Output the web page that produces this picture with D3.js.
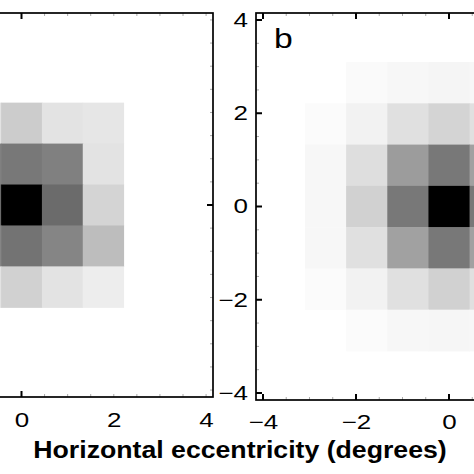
<!DOCTYPE html>
<html>
    <head>
        <meta charset="utf-8">
        <title>Receptive field maps</title>
        <script src="https://d3js.org/d3.v7.min.js"></script>
    </head>
    <style>
        body { margin: 0; background: #fff; }
        text { font-family: "Liberation Sans", Arial, sans-serif; fill: #000; }
    </style>
    <body>

        <div id="my_dataviz"></div>

        <script>

            // grid of stimulus positions (cell index), each cell is CELL degrees wide
            var gridIdx = [-4, -3, -2, -1, 0, 1, 2, 3, 4];
            var CELL = 0.885;

            // tick labels (degrees)
            var tickValues = [-4, -2, 0, 2, 4];
            var minorTicks = d3.range(-4, 4.01, 0.5);

            // response (0 = white, 1 = black). rows: y = +4 .. -4, cols: x = -4 .. 4
            var respA = [
                [0, 0, 0,    0,    0,    0,    0,    0, 0],
                [0, 0, 0,    0,    0,    0,    0,    0, 0],
                [0, 0, 0.10, 0.11, 0.20, 0.11, 0.10, 0, 0],
                [0, 0, 0.11, 0.50, 0.53, 0.50, 0.11, 0, 0],
                [0, 0, 0.17, 0.58, 1.00, 0.58, 0.17, 0, 0],
                [0, 0, 0.26, 0.48, 0.55, 0.48, 0.26, 0, 0],
                [0, 0, 0.07, 0.11, 0.18, 0.11, 0.07, 0, 0],
                [0, 0, 0,    0,    0,    0,    0,    0, 0],
                [0, 0, 0,    0,    0,    0,    0,    0, 0]
            ];

            var respB = [
                [0, 0,     0,     0,    0,    0,    0,     0,     0],
                [0, 0,     0.02,  0.03, 0.04, 0.03, 0.02,  0,     0],
                [0, 0.015, 0.05,  0.12, 0.17, 0.12, 0.05,  0.015, 0],
                [0, 0.03,  0.13,  0.39, 0.53, 0.37, 0.13,  0.03,  0],
                [0, 0.03,  0.18,  0.53, 1.00, 0.53, 0.18,  0.03,  0],
                [0, 0.03,  0.12,  0.37, 0.53, 0.37, 0.12,  0.03,  0],
                [0, 0.015, 0.05,  0.12, 0.18, 0.12, 0.05,  0.015, 0],
                [0, 0,     0.015, 0.03, 0.035, 0.03, 0.015, 0,    0],
                [0, 0,     0,     0,    0,    0,    0,     0,     0]
            ];

            var W = 474, H = 474;
            var DOM = [-4.15, 4.15];
            var SX = 1.3;   // the original figure's text is stretched sideways

            var svg = d3.select("#my_dataviz")
                .append("svg")
                    .attr("width", W)
                    .attr("height", H);

            var gray = d3.scaleLinear().domain([0, 1]).range(["#ffffff", "#000000"]);

            function drawPanel(id, box, resp, opts) {
                var x = d3.scaleLinear().domain(DOM).range([box.left, box.right]);
                var y = d3.scaleLinear().domain(DOM).range([box.bottom, box.top]);

                svg.append("clipPath").attr("id", "clip" + id)
                    .append("rect")
                    .attr("x", box.left).attr("y", box.top)
                    .attr("width", box.right - box.left)
                    .attr("height", box.bottom - box.top);

                var g = svg.append("g").attr("clip-path", "url(#clip" + id + ")");

                // cells
                var cells = [];
                resp.forEach(function(row, r) {
                    row.forEach(function(v, c) {
                        cells.push({ cx: gridIdx[c] * CELL, cy: gridIdx[gridIdx.length - 1 - r] * CELL, v: v });
                    });
                });
                g.selectAll("rect.cell")
                    .data(cells.filter(function(d) { return d.v > 0; }))
                    .enter().append("rect")
                    .attr("class", "cell")
                    .attr("x", function(d) { return x(d.cx - CELL / 2); })
                    .attr("y", function(d) { return y(d.cy + CELL / 2); })
                    .attr("width", x(CELL) - x(0) + 0.5)
                    .attr("height", y(0) - y(CELL) + 0.5)
                    .attr("fill", function(d) { return gray(d.v); });

                // minor ticks (faint), all four sides
                var len = 3;
                minorTicks.forEach(function(t) {
                    g.append("line").attr("x1", x(t)).attr("x2", x(t)).attr("y1", box.top).attr("y2", box.top + len)
                        .attr("stroke", "#aaa").attr("stroke-width", 1);
                    g.append("line").attr("x1", x(t)).attr("x2", x(t)).attr("y1", box.bottom).attr("y2", box.bottom - len)
                        .attr("stroke", "#aaa").attr("stroke-width", 1);
                    g.append("line").attr("y1", y(t)).attr("y2", y(t)).attr("x1", box.left).attr("x2", box.left + len)
                        .attr("stroke", "#aaa").attr("stroke-width", 1);
                    g.append("line").attr("y1", y(t)).attr("y2", y(t)).attr("x1", box.right).attr("x2", box.right - len)
                        .attr("stroke", "#aaa").attr("stroke-width", 1);
                });

                // major ticks
                var L = 6;
                opts.xMajor.forEach(function(t) {
                    g.append("line").attr("x1", x(t)).attr("x2", x(t)).attr("y1", box.top).attr("y2", box.top + L)
                        .attr("stroke", "#000").attr("stroke-width", 2);
                    g.append("line").attr("x1", x(t)).attr("x2", x(t)).attr("y1", box.bottom).attr("y2", box.bottom - L)
                        .attr("stroke", "#000").attr("stroke-width", 2);
                });
                opts.yLeftMajor.forEach(function(t) {
                    g.append("line").attr("y1", y(t)).attr("y2", y(t)).attr("x1", box.left).attr("x2", box.left + L)
                        .attr("stroke", "#000").attr("stroke-width", 2);
                });
                opts.yRightMajor.forEach(function(t) {
                    g.append("line").attr("y1", y(t)).attr("y2", y(t)).attr("x1", box.right).attr("x2", box.right - L)
                        .attr("stroke", "#000").attr("stroke-width", 2);
                });

                // frame
                svg.append("rect")
                    .attr("x", box.left).attr("y", box.top)
                    .attr("width", box.right - box.left)
                    .attr("height", box.bottom - box.top)
                    .attr("fill", "none")
                    .attr("stroke", "#000")
                    .attr("stroke-width", 1.7);

                // tick labels via d3 axes (no tick lines); only those inside the picture
                var inView = function(v, s) { return s(v) > 8 && s(v) < W - 8; };

                var xAxis = svg.append("g")
                    .attr("transform", "translate(0," + box.bottom + ")")
                    .call(d3.axisBottom(x)
                        .tickValues(tickValues.filter(function(v) { return inView(v, x); }))
                        .tickSize(0).tickPadding(opts.xPad));
                xAxis.select(".domain").remove();
                xAxis.selectAll("text")
                    .style("font-size", "20px").attr("font-family", null)
                    .attr("transform", "scale(" + SX + ",1)");

                if (box.left > 20) {
                    var yAxis = svg.append("g")
                        .attr("transform", "translate(" + box.left + ",0)")
                        .call(d3.axisLeft(y).tickValues(tickValues).tickSize(0).tickPadding(8));
                    yAxis.select(".domain").remove();
                    yAxis.selectAll("text")
                        .style("font-size", "20px").attr("font-family", null)
                        .attr("x", -8 / SX)
                        .attr("transform", "scale(" + SX + ",1)");
                }

                return { x: x, y: y };
            }

            var panelA = drawPanel("a", { left: -170, right: 213, top: 13, bottom: 397 }, respA,
                { xMajor: [-4, -2, 0], yLeftMajor: [-4, -2, 0, 2, 4], yRightMajor: [0], xPad: 16 });

            var panelB = drawPanel("b", { left: 256, right: 642, top: 13, bottom: 400 }, respB,
                { xMajor: [-4, -2, 0], yLeftMajor: [-4, -2, 0, 2, 4], yRightMajor: [0], xPad: 15 });

            // panel letter
            svg.append("text")
                .attr("x", 274 / 1.25)
                .attr("y", 48)
                .attr("transform", "scale(1.25,1)")
                .style("font-size", "27px")
                .text("b");

            // shared x axis title
            svg.append("text")
                .attr("x", 240 / 1.16)
                .attr("y", 458)
                .attr("transform", "scale(1.16,1)")
                .attr("text-anchor", "middle")
                .style("font-size", "23px")
                .style("font-weight", "bold")
                .text("Horizontal eccentricity (degrees)");

        </script>
    </body>
</html>
